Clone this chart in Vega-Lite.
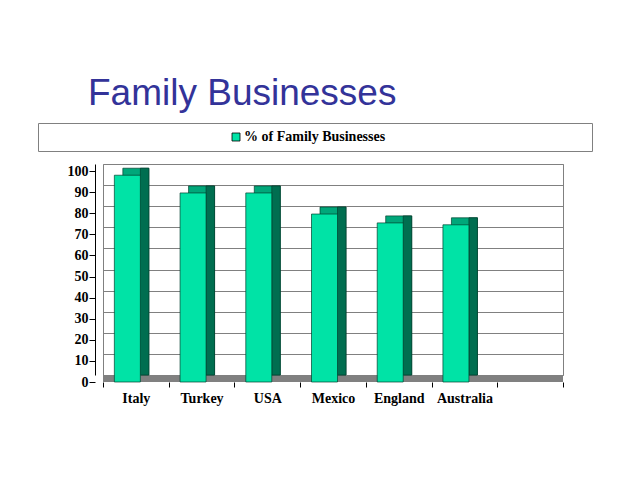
{
  "$schema": "https://vega.github.io/schema/vega-lite/v6.json",
  "autosize": "none",
  "width": 460,
  "height": 211,
  "padding": {"left": 103, "top": 164, "right": 75, "bottom": 103},
  "background": "white",
  "title": {
    "text": "Family Businesses",
    "anchor": "start",
    "frame": "group",
    "font": "Liberation Sans",
    "fontSize": 37,
    "fontWeight": "normal",
    "color": "#333399",
    "dx": -15,
    "offset": 10
  },
  "config": {
    "view": {"stroke": "#808080", "strokeWidth": 1}
  },
  "data": {
    "values": [
      {"country": "Italy", "pct": 98},
      {"country": "Turkey", "pct": 89.6},
      {"country": "USA", "pct": 89.6},
      {"country": "Mexico", "pct": 79.6},
      {"country": "England", "pct": 75.4},
      {"country": "Australia", "pct": 74.5}
    ]
  },
  "resolve": {"axis": {"y": "independent"}},
  "layer": [
    {
      "mark": {"type": "rule", "color": "#808080", "strokeWidth": 7, "yOffset": 3.5},
      "encoding": {
        "y": {"datum": 0, "type": "quantitative", "scale": {"domain": [0, 100]}, "axis": null}
      }
    },
    {
      "mark": {"type": "bar", "width": 26, "color": "#00A77A", "stroke": "#00402E", "strokeWidth": 0.7},
      "encoding": {
        "x": {
          "field": "country",
          "type": "nominal",
          "scale": {"domain": ["Italy", "Turkey", "USA", "Mexico", "England", "Australia", " "], "paddingInner": 0, "paddingOuter": 0},
          "axis": {
            "orient": "bottom",
            "offset": 7,
            "tickBand": "extent",
            "tickOffset": -8.5,
            "domain": false,
            "ticks": true,
            "tickColor": "#000",
            "tickSize": 5,
            "grid": false,
            "labelAngle": 0,
            "labelFont": "Liberation Serif",
            "labelFontSize": 14,
            "labelFontWeight": "bold",
            "labelColor": "#000",
            "labelPadding": 4,
            "title": null
          }
        },
        "y": {
          "field": "pct",
          "type": "quantitative",
          "scale": {"domain": [0, 100]},
          "axis": {
            "orient": "left",
            "values": [0, 10, 20, 30, 40, 50, 60, 70, 80, 90, 100],
            "grid": true,
            "gridColor": "#808080",
            "gridWidth": 1,
            "labels": false,
            "ticks": false,
            "domain": false,
            "title": null
          }
        }
      }
    },
    {
      "mark": {"type": "bar", "width": 8.5, "xOffset": 8.75, "color": "#006E50", "stroke": "#00402E", "strokeWidth": 0.7},
      "encoding": {
        "x": {"field": "country", "type": "nominal"},
        "y": {"field": "pct", "type": "quantitative", "axis": null}
      }
    },
    {
      "mark": {"type": "bar", "width": 26, "xOffset": -8.5, "yOffset": 7, "y2Offset": 7, "stroke": "#00402E", "strokeWidth": 0.7},
      "encoding": {
        "x": {"field": "country", "type": "nominal"},
        "y": {
          "field": "pct",
          "type": "quantitative",
          "axis": {
            "orient": "left",
            "offset": 8,
            "tickOffset": 7,
            "values": [0, 10, 20, 30, 40, 50, 60, 70, 80, 90, 100],
            "grid": false,
            "domainColor": "#000",
            "tickColor": "#000",
            "tickSize": 6,
            "labelPadding": 1,
            "labelFont": "Liberation Serif",
            "labelFontSize": 14,
            "labelFontWeight": "bold",
            "labelColor": "#000",
            "title": null
          }
        },
        "color": {
          "datum": "% of Family Businesses",
          "scale": {"domain": ["% of Family Businesses", " "], "range": ["#00E3A6", "white"]},
          "legend": {
            "orient": "none",
            "legendX": -65,
            "legendY": -41,
            "direction": "horizontal",
            "title": null,
            "symbolType": "square",
            "symbolSize": 64,
            "symbolStrokeColor": "#000",
            "symbolStrokeWidth": 0.8,
            "symbolOffset": 184,
            "labelOffset": 1,
            "labelFont": "Liberation Serif",
            "labelFontSize": 14,
            "labelFontWeight": "bold",
            "labelColor": "#000",
            "labelLimit": 600,
            "columnPadding": 0,
            "strokeColor": "#808080",
            "fillColor": "white",
            "padding": 7,
            "encode": {
              "symbols": {
                "update": {
                  "strokeOpacity": {"signal": "datum.index === 0 ? 1 : 0"}
                }
              }
            }
          }
        }
      }
    }
  ]
}
